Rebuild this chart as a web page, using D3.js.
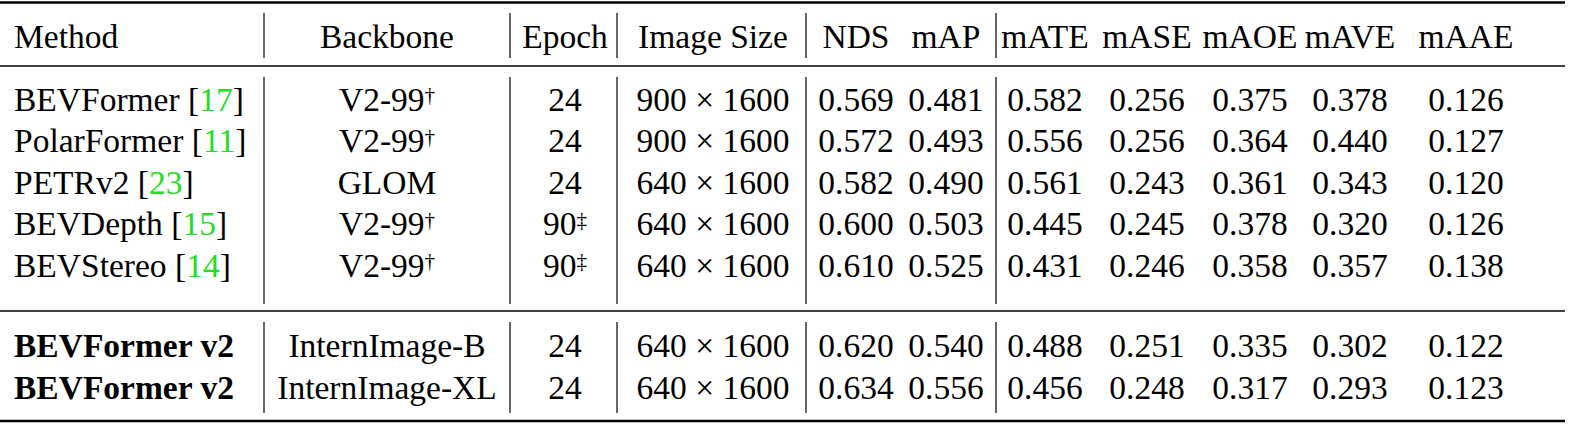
<!DOCTYPE html>
<html>
<head>
<meta charset="utf-8">
<script src="https://cdn.jsdelivr.net/npm/d3@7"></script>
<style>
  body { margin: 0; background: #fff; }
  svg text { font-family: "Liberation Serif", "DejaVu Serif", serif; font-size: 33.5px; fill: #000; }
</style>
</head>
<body>
<svg id="table" width="1581" height="425"></svg>
<script>
// table content
const headers = ["Method", "Backbone", "Epoch", "Image Size", "NDS", "mAP", "mATE", "mASE", "mAOE", "mAVE", "mAAE"];
const methods = ["BEVFormer", "PolarFormer", "PETRv2", "BEVDepth", "BEVStereo", "BEVFormer v2", "BEVFormer v2"];
const cites = ["17", "11", "23", "15", "14", null, null];
const backbones = ["V2-99", "V2-99", "GLOM", "V2-99", "V2-99", "InternImage-B", "InternImage-XL"];
const backboneMarks = ["†", "†", "", "†", "†", "", ""];
const epochs = ["24", "24", "24", "90", "90", "24", "24"];
const epochMarks = ["", "", "", "‡", "‡", "", ""];
const imageSizes = ["900 × 1600", "900 × 1600", "640 × 1600", "640 × 1600", "640 × 1600", "640 × 1600", "640 × 1600"];
const nds  = [0.569, 0.572, 0.582, 0.600, 0.610, 0.620, 0.634];
const map  = [0.481, 0.493, 0.490, 0.503, 0.525, 0.540, 0.556];
const mate = [0.582, 0.556, 0.561, 0.445, 0.431, 0.488, 0.456];
const mase = [0.256, 0.256, 0.243, 0.245, 0.246, 0.251, 0.248];
const maoe = [0.375, 0.364, 0.361, 0.378, 0.358, 0.335, 0.317];
const mave = [0.378, 0.440, 0.343, 0.320, 0.357, 0.302, 0.293];
const maae = [0.126, 0.127, 0.120, 0.126, 0.138, 0.122, 0.123];
const oursRows = [5, 6];

const svg = d3.select("#table");
const fmt = d3.format(".3f");

// column centres (Method is left aligned)
const colX = d3.scaleOrdinal()
  .domain(headers)
  .range([14, 387, 565, 713, 856, 946, 1045, 1147, 1250, 1350, 1466]);

// row centres: index -1 is the header
const rowY = i => i < 0 ? 36 : (i < 5 ? d3.scaleLinear([0, 4], [99, 265])(i) : d3.scaleLinear([5, 6], [345, 387])(i));

// horizontal rules
const rules = [{y: 2.5, w: 2.6}, {y: 66, w: 1.5}, {y: 311, w: 1.5}, {y: 421, w: 2.6}];
svg.selectAll(".rule").data(rules).join("line")
  .attr("x1", 0).attr("x2", 1565)
  .attr("y1", d => d.y).attr("y2", d => d.y)
  .attr("stroke", "#000").attr("stroke-width", d => d.w);

// vertical separators, broken by the rules
const sepX = [264, 510, 617, 806, 996];
const sepSpans = [[13, 58], [77, 304], [322, 413]];
sepX.forEach(x => {
  svg.selectAll(null).data(sepSpans).join("line")
    .attr("x1", x).attr("x2", x)
    .attr("y1", d => d[0]).attr("y2", d => d[1])
    .attr("stroke", "#000").attr("stroke-width", 1.2);
});

// header
svg.selectAll(".hdr").data(headers).join("text")
  .attr("x", d => colX(d))
  .attr("y", rowY(-1))
  .attr("dy", "0.35em")
  .attr("text-anchor", d => d === "Method" ? "start" : "middle")
  .text(d => d);

const rows = d3.range(methods.length);

// method column with citations
const mt = svg.selectAll(".method").data(rows).join("text")
  .attr("x", colX("Method"))
  .attr("y", i => rowY(i))
  .attr("dy", "0.35em")
  .style("font-weight", i => oursRows.includes(i) ? "bold" : "normal");
mt.append("tspan").text(i => methods[i]);
mt.filter(i => cites[i]).append("tspan").text(" [");
mt.filter(i => cites[i]).append("tspan").style("fill", "#22dd22").text(i => cites[i]);
mt.filter(i => cites[i]).append("tspan").text("]");

// text column with superscript marks
function markedColumn(col, vals, marks) {
  const t = svg.selectAll(null).data(rows).join("text")
    .attr("x", colX(col))
    .attr("y", i => rowY(i))
    .attr("dy", "0.35em")
    .attr("text-anchor", "middle");
  t.append("tspan").text(i => vals[i]);
  t.filter(i => marks[i]).append("tspan")
    .attr("dy", "-0.4em")
    .style("font-size", "21px")
    .text(i => marks[i]);
}
markedColumn("Backbone", backbones, backboneMarks);
markedColumn("Epoch", epochs, epochMarks);
markedColumn("Image Size", imageSizes, imageSizes.map(() => ""));

// numeric columns
const numCols = [["NDS", nds], ["mAP", map], ["mATE", mate], ["mASE", mase], ["mAOE", maoe], ["mAVE", mave], ["mAAE", maae]];
numCols.forEach(([col, vals]) => {
  svg.selectAll(null).data(vals).join("text")
    .attr("x", colX(col))
    .attr("y", (d, i) => rowY(i))
    .attr("dy", "0.35em")
    .attr("text-anchor", "middle")
    .text(d => fmt(d));
});
</script>
</body>
</html>
